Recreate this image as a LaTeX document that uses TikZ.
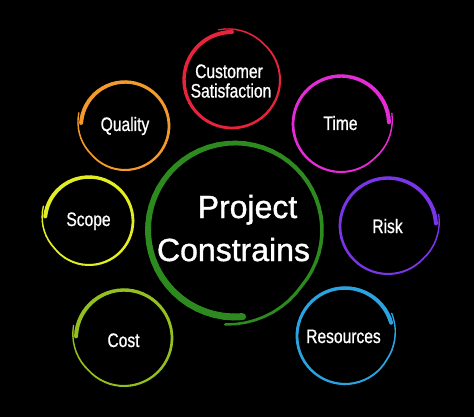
\documentclass[tikz,border=0pt]{standalone}
\usepackage{fontspec}
\setmainfont{Liberation Sans}
\newfontfamily\bigfont[FakeBold=1.2]{Liberation Sans}
\newfontfamily\labfont[FakeStretch=0.8,FakeBold=0.8]{Liberation Sans}
\usetikzlibrary{calc}
\definecolor{cRed}{HTML}{E8243D}
\definecolor{cTime}{HTML}{E52BD6}
\definecolor{cRisk}{HTML}{7B35E8}
\definecolor{cRes}{HTML}{2BA3E0}
\definecolor{cCost}{HTML}{93C01F}
\definecolor{cScope}{HTML}{E2EE22}
\definecolor{cQual}{HTML}{F39A2B}
\definecolor{cMain}{HTML}{2D8A1E}
% #1 centre, #2 radius, #3 start angle, #4 signed sweep, #5 max width, #6 min width, #7 tail growth, #8 colour
\newcommand{\brushring}[8]{%
  \foreach \i in {0,...,59}{%
    \pgfmathsetmacro\stp{#4/60}%
    \pgfmathsetmacro\aA{#3+\stp*\i}%
    \pgfmathsetmacro\aB{#3+\stp*(\i+1)}%
    \pgfmathsetmacro\rA{#2+#7*max(0,(\i/60-0.85)/0.15)}%
    \pgfmathsetmacro\rB{#2+#7*max(0,((\i+1)/60-0.85)/0.15)}%
    \pgfmathsetmacro\wd{#5-(#5-#6)*\i/59}%
    \draw[draw=#8, line width=\wd pt, line cap=round]
      ($(#1)+(\aA:\rA)$) -- ($(#1)+(\aB:\rB)$);
  }%
}
\tikzset{
  lab/.style={text=white, inner sep=0pt, anchor=base, font=\labfont\fontsize{19.5}{20}\selectfont},
  big/.style={text=white, inner sep=0pt, anchor=base, font=\bigfont\fontsize{32}{36}\selectfont}
}
\begin{document}
\begin{tikzpicture}[x=1pt,y=-1pt]
\fill[black] (0,0) rectangle (474,417);
\useasboundingbox (0,0) rectangle (474,417);

% ring centres
\coordinate (csc) at (232,80);
\coordinate (tic) at (341,124);
\coordinate (ric) at (388,226);
\coordinate (rec) at (345,336);
\coordinate (coc) at (124,338);
\coordinate (scc) at (89,221);
\coordinate (quc) at (125,126);
\coordinate (pcc) at (235,230);

% rings
\brushring{pcc}{87}{85}{371}{7}{2.5}{8}{cMain}
\brushring{csc}{48}{270}{-375}{4}{1.3}{4}{cRed}
\brushring{tic}{48}{-2}{-370}{4}{1.3}{4}{cTime}
\brushring{ric}{48}{-3}{-370}{4}{1.3}{4}{cRisk}
\brushring{rec}{48}{-16}{-370}{4}{1.3}{4}{cRes}
\brushring{coc}{48}{182}{372}{4}{1.3}{4}{cCost}
\brushring{scc}{44}{186}{372}{4}{1.3}{4}{cScope}
\brushring{quc}{44}{184}{372}{4}{1.3}{4}{cQual}

% texts
\node[big] (proj) at (247.5,218) {Project};
\node[big] (cons) at (233.5,261) {Constrains};
\node[lab] (cust) at (229,78) {Customer};
\node[lab] (sat) at (231,97.5) {Satisfaction};
\node[lab] (time) at (340.5,130) {Time};
\node[lab] (risk) at (387.5,233) {Risk};
\node[lab] (res) at (343.5,343) {Resources};
\node[lab] (cost) at (123.5,347) {Cost};
\node[lab] (scope) at (88.5,226) {Scope};
\node[lab] (qual) at (125,131) {Quality};
\end{tikzpicture}
\end{document}
